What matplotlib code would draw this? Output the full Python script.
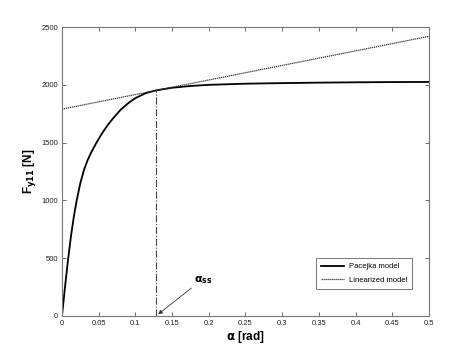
import matplotlib
matplotlib.use("Agg")
import matplotlib.pyplot as plt

plt.rcParams['font.family'] = ['Liberation Sans', 'DejaVu Sans']

# Pacejka model curve
alpha_pac = [0.0, 0.004, 0.008, 0.012, 0.016, 0.020, 0.025, 0.030, 0.035, 0.040, 0.047,
             0.055, 0.063, 0.070, 0.080, 0.091, 0.100, 0.114, 0.128, 0.150, 0.175, 0.200,
             0.250, 0.300, 0.350, 0.400, 0.450, 0.500]
fy_pac = [0, 245, 475, 680, 855, 1000, 1150, 1265, 1350, 1418, 1500,
          1585, 1658, 1713, 1785, 1845, 1885, 1928, 1952, 1975, 1990, 2000,
          2010, 2015, 2019, 2022, 2024, 2025]

# Linearized model (straight line)
alpha_lin = [0.0, 0.5]
fy_lin = [1790, 2420]

alpha_ss = 0.128
fy_ss = 1952

xticks = [0, 0.05, 0.1, 0.15, 0.2, 0.25, 0.3, 0.35, 0.4, 0.45, 0.5]
xticklabels = ['0', '0.05', '0.1', '0.15', '0.2', '0.25', '0.3', '0.35', '0.4', '0.45', '0.5']
yticks = [0, 500, 1000, 1500, 2000, 2500]

fig = plt.figure(figsize=(4.74, 3.56), dpi=100)
ax = fig.add_axes([0.1308, 0.1124, 0.7742, 0.8116])

ax.plot(alpha_pac, fy_pac, color='black', lw=1.3, label='Pacejka model', solid_joinstyle='round')
ax.plot(alpha_lin, fy_lin, color='#333333', lw=0.9, linestyle=(0, (1, 0.6)), label='Linearized model')
ax.plot([alpha_ss, alpha_ss], [0, fy_ss], color='#444444', lw=0.8, linestyle='-.')

ax.annotate(r'$\mathbf{\alpha_{ss}}$', xy=(0.131, 15), xytext=(0.18, 260),
            fontsize=8, color='black', ha='left', va='bottom',
            arrowprops=dict(arrowstyle='-|>', color='#333333', lw=0.6, mutation_scale=6,
                            shrinkA=0, shrinkB=0, relpos=(0.0, 0.0)))

ax.set_xlim(0, 0.5)
ax.set_ylim(0, 2500)
ax.set_xticks(xticks)
ax.set_xticklabels(xticklabels)
ax.set_yticks(yticks)
ax.tick_params(direction='in', length=3, width=0.6, labelsize=5.5, colors='#555555',
               labelcolor='#222222', top=True, right=True, pad=3)
for s in ax.spines.values():
    s.set_color('#777777')
    s.set_linewidth(0.8)

ax.set_xlabel(r'$\mathbf{\alpha}$ [rad]', fontsize=8.5, fontweight='bold', labelpad=1)
ax.set_ylabel(r'F$_{\mathbf{y11}}$ [N]', fontsize=8.5, fontweight='bold', labelpad=2)

leg = ax.legend(loc='lower right', bbox_to_anchor=(0.955, 0.093), fontsize=5.5,
                frameon=True, fancybox=False, borderpad=0.7, handlelength=3.0,
                labelspacing=0.8, handletextpad=0.6, borderaxespad=0)
leg.get_frame().set_edgecolor('#555555')
leg.get_frame().set_linewidth(0.7)

fig.savefig('out.png', dpi=100)
